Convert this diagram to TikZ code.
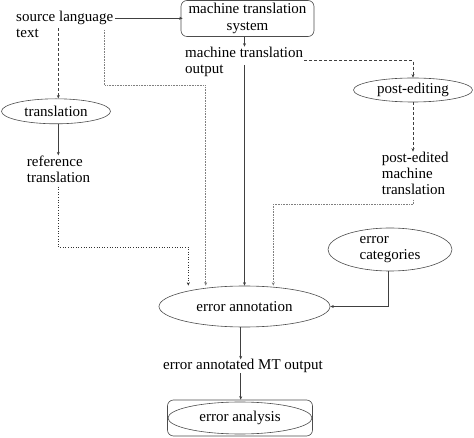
\documentclass[tikz,border=0pt]{standalone}
\usepackage{fontspec}
\setmainfont{Liberation Serif}
\usetikzlibrary{arrows.meta,shapes.geometric}

\begin{document}
\begin{tikzpicture}[x=1pt,y=-1pt]
    \tikzstyle{every node} = [font=\fontsize{15}{16.3}\selectfont]
    \tikzstyle{txt} = [inner sep=0pt, align=left, anchor=north west]
    \tikzstyle{ell} = [draw=black!70, ellipse, line width=0.6pt, inner sep=0pt]
    \tikzstyle{box} = [draw=black!70, rectangle, rounded corners=6pt, line width=0.6pt, inner sep=0pt, align=center]
    \tikzstyle{arr} = [-{Stealth[length=3.5pt,width=3pt]}, line width=0.6pt, black!75]
    \tikzstyle{dsh} = [dash pattern=on 3pt off 2pt]
    \tikzstyle{dot} = [dotted, black!80]
    \tikzstyle{fine} = [densely dotted, black!50]
    \useasboundingbox (0,0) rectangle (474,438);
    % place nodes
    \node[txt](src) at (16,10.7){source language\\text};
    \node[box, minimum width=133pt, minimum height=36pt](mts) at (247.5,18.5){machine translation\\system};
    \node[txt](mto) at (185,46.7){machine translation\\output};
    \node[ell, minimum width=119pt, minimum height=24pt](pe) at (413,90){post-editing};
    \node[txt](ped) at (381.7,151.7){post-edited\\machine\\translation};
    \node[ell, minimum width=109pt, minimum height=25pt](tr) at (56,111.3){translation};
    \node[txt](ref) at (26.7,155.4){reference\\translation};
    \node[ell, align=left, minimum width=124pt, minimum height=43pt](cat) at (390,249.5){error\\categories};
    \node[ell, minimum width=171pt, minimum height=41pt](ea) at (244.5,306.5){error annotation};
    \node[inner sep=0pt, anchor=base](eamt) at (243,370){error annotated MT output};
    \node[box, minimum width=145pt, minimum height=36pt,
      path picture={\draw[black!70, line width=0.6pt] (path picture bounding box.center) ellipse (72pt and 16pt);}](an) at (240,418){error analysis};

    % free ends
    \coordinate (srcout) at (58.3,28.3);
    \coordinate (srcside) at (104.3,30);
    \coordinate (mtoout) at (244.5,65);
    \coordinate (pedout) at (413,200);
    \coordinate (refout) at (58.3,186.7);

    % Connections
    \draw[arr]
    ([shift={(2,7.6)}]src.north east) -- ([shift={(2,7.6)}]src.north east -| mts.west);
    \draw[arr]
    ([xshift=-3pt]mts.south) -- ([xshift=-3pt]mts.south |- mto.north);
    \draw[arr,dsh]
    ([shift={(1,13.6)}]mto.north east) -| (pe.north);
    \draw[arr,dsh]
    (srcout) -- (srcout |- tr.north);
    \draw[arr,fine]
    (srcside) -- ++(0,55) -| ([xshift=-38.8pt]ea.north);
    \draw[arr]
    (mtoout) -- (ea.north);
    \draw[arr,dsh]
    (pe.south) -- (pe.south |- ped.north);
    \draw[arr,fine]
    (pedout) -- ++(0,4.5) -| ([xshift=28.8pt]ea.north);
    \draw[arr]
    (tr.south -| refout) -- (refout |- ref.north);
    \draw[arr,dot]
    (refout) -- ++(0,60.5) -| ([xshift=-56.2pt]ea.north);
    \draw[arr]
    ([xshift=-1.7pt]cat.south) |- (ea.east);
    \draw[arr]
    ([xshift=-3.8pt]ea.south) -- ([xshift=-3.8pt]ea.south |- eamt.north);
    \draw[arr]
    ([xshift=-2.3pt]eamt.south) -- ([xshift=-2.3pt]eamt.south |- an.north);

\end{tikzpicture}
\end{document}
